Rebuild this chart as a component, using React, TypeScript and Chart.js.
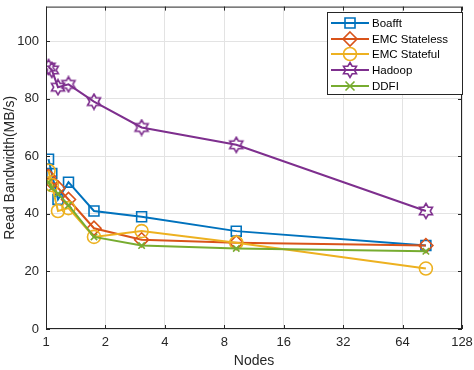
import React, { useEffect, useRef } from "react";
import { Chart, registerables } from "chart.js";

Chart.register(...registerables);

const seriesNames = ["Boafft", "EMC Stateless", "EMC Stateful", "Hadoop", "DDFI"];
const nodes = [1.03, 1.07, 1.15, 1.3, 1.75, 3.05, 9.2, 84];
const boafft = [59, 54, 45, 51, 41, 39, 34, 29];
const emcStateless = [53, 51, 49, 45, 35, 31, 30, 29];
const emcStateful = [55, 50, 41, 42, 32, 34, 30, 21];
const hadoop = [91, 90, 84, 85, 79, 70, 64, 41];
const ddfi = [51, 49, 47, 43, 32, 29, 28, 27];
const xTicks = [1, 2, 4, 8, 16, 32, 64, 128];
const yTicks = [0, 20, 40, 60, 80, 100];
const colors = ["#0072BD", "#D95319", "#EDB120", "#7E2F8E", "#77AC30"];

const FONT = "'Liberation Sans', Arial, sans-serif";
const AXIS = "#262626";
const SHIFT = 3;

function hexagramPath(ctx: CanvasRenderingContext2D, cx: number, cy: number, R: number) {
  const r = R / Math.sqrt(3);
  ctx.beginPath();
  for (let i = 0; i < 12; i++) {
    const ang = -Math.PI / 2 + (i * Math.PI) / 6;
    const rad = i % 2 === 0 ? R : r;
    const x = cx + rad * Math.cos(ang);
    const y = cy + rad * Math.sin(ang);
    if (i === 0) ctx.moveTo(x, y);
    else ctx.lineTo(x, y);
  }
  ctx.closePath();
}

function makeHexagram(color: string): HTMLCanvasElement {
  const c = document.createElement("canvas");
  c.width = 18;
  c.height = 18;
  const ctx = c.getContext("2d")!;
  ctx.strokeStyle = color;
  ctx.lineWidth = 1.6;
  hexagramPath(ctx, 9, 9, 7.5);
  ctx.stroke();
  return c;
}

function drawMarker(ctx: CanvasRenderingContext2D, style: string, x: number, y: number, color: string) {
  ctx.save();
  ctx.strokeStyle = color;
  ctx.lineWidth = 1.6;
  ctx.beginPath();
  if (style === "rect") {
    ctx.rect(x - 5, y - 5, 10, 10);
  } else if (style === "rectRot") {
    ctx.moveTo(x, y - 7);
    ctx.lineTo(x + 7, y);
    ctx.lineTo(x, y + 7);
    ctx.lineTo(x - 7, y);
    ctx.closePath();
  } else if (style === "circle") {
    ctx.arc(x, y, 6.5, 0, Math.PI * 2);
  } else if (style === "hex") {
    hexagramPath(ctx, x, y, 7.5);
  } else if (style === "crossRot") {
    ctx.moveTo(x - 4.5, y - 4.5);
    ctx.lineTo(x + 4.5, y + 4.5);
    ctx.moveTo(x + 4.5, y - 4.5);
    ctx.lineTo(x - 4.5, y + 4.5);
  }
  ctx.stroke();
  ctx.restore();
}

const markerKinds = ["rect", "rectRot", "circle", "hex", "crossRot"];

export default function App() {
  const ref = useRef<HTMLCanvasElement>(null);
  useEffect(() => {
    document.body.style.margin = "0";
    const allValues = [boafft, emcStateless, emcStateful, hadoop, ddfi];
    const radii = [7, 7, 6.5, 8, 4.5];
    const datasets = allValues.map((vals, i) => ({
      label: seriesNames[i],
      data: nodes.map((n, j) => ({ x: n, y: vals[j] })),
      borderColor: colors[i],
      backgroundColor: colors[i],
      borderWidth: 2,
      pointStyle: i === 3 ? makeHexagram(colors[i]) : (markerKinds[i] as any),
      pointRadius: radii[i],
      pointBorderWidth: 1.6,
      pointBorderColor: colors[i],
      pointBackgroundColor: "rgba(0,0,0,0)",
      tension: 0,
      order: 5 - i,
    }));

    const framePlugin = {
      id: "frame",
      afterDatasetsDraw(chart: any) {
        const { ctx, chartArea: a, scales } = chart;
        ctx.save();
        ctx.strokeStyle = AXIS;
        ctx.lineWidth = 1;
        ctx.strokeRect(a.left + 0.5, a.top + 0.5, a.right - a.left - 1, a.bottom - a.top - 1);
        ctx.beginPath();
        xTicks.forEach((t) => {
          const x = Math.round(scales.x.getPixelForValue(t)) + 0.5;
          ctx.moveTo(x, a.bottom);
          ctx.lineTo(x, a.bottom - 4);
          ctx.moveTo(x, a.top);
          ctx.lineTo(x, a.top + 4);
        });
        yTicks.forEach((t) => {
          const y = Math.round(scales.y.getPixelForValue(t)) + 0.5;
          ctx.moveTo(a.left, y);
          ctx.lineTo(a.left + 4, y);
          ctx.moveTo(a.right, y);
          ctx.lineTo(a.right - 4, y);
        });
        ctx.stroke();

        // legend (page coordinates + canvas shift)
        const lx = 327, ly = 12 + SHIFT, lw = 135, lh = 82;
        ctx.fillStyle = "#ffffff";
        ctx.fillRect(lx, ly, lw, lh);
        ctx.strokeStyle = AXIS;
        ctx.lineWidth = 1;
        ctx.strokeRect(lx + 0.5, ly + 0.5, lw, lh);
        const rows = [23, 39, 54, 70, 86];
        ctx.font = `11.5px ${FONT}`;
        ctx.textBaseline = "middle";
        ctx.textAlign = "left";
        seriesNames.forEach((name, i) => {
          const y = rows[i] + SHIFT;
          ctx.strokeStyle = colors[i];
          ctx.lineWidth = 2;
          ctx.beginPath();
          ctx.moveTo(331, y);
          ctx.lineTo(369, y);
          ctx.stroke();
          drawMarker(ctx, markerKinds[i], 350, y, colors[i]);
          ctx.fillStyle = "#000000";
          ctx.fillText(name, 372, y + 1);
        });
        ctx.restore();
      },
    };

    const chart = new Chart(ref.current!, {
      type: "line",
      data: { datasets: datasets as any },
      options: {
        animation: false,
        responsive: false,
        events: [],
        layout: { padding: { top: -2, right: 12, left: 0, bottom: 0 } },
        plugins: { legend: { display: false }, tooltip: { enabled: false } },
        scales: {
          x: {
            type: "logarithmic",
            min: 1,
            max: 128,
            afterBuildTicks: (s: any) => {
              s.ticks = xTicks.map((v) => ({ value: v }));
            },
            afterFit: (s: any) => {
              s.height = 41;
              s.paddingLeft = 0;
              s.paddingRight = 0;
            },
            ticks: {
              autoSkip: false,
              maxRotation: 0,
              padding: 6,
              color: AXIS,
              font: { family: FONT, size: 13 },
              callback: (v: any) => String(v),
            },
            grid: { color: "#e3e3e3", drawTicks: false },
            border: { display: false },
            title: {
              display: true,
              text: "Nodes",
              color: AXIS,
              font: { family: FONT, size: 14 },
              padding: { top: 3, bottom: 0 },
            },
          },
          y: {
            type: "linear",
            min: 0,
            max: 112,
            afterBuildTicks: (s: any) => {
              s.ticks = yTicks.map((v) => ({ value: v }));
            },
            afterFit: (s: any) => {
              s.width = 46;
              s.paddingTop = 0;
              s.paddingBottom = 0;
            },
            ticks: {
              padding: 7,
              color: AXIS,
              font: { family: FONT, size: 13 },
            },
            grid: { color: "#e3e3e3", drawTicks: false },
            border: { display: false },
            title: {
              display: true,
              text: "Read Bandwidth(MB/s)",
              color: AXIS,
              font: { family: FONT, size: 14 },
              padding: { top: 2, bottom: 0 },
            },
          },
        },
      },
      plugins: [framePlugin],
    });
    return () => chart.destroy();
  }, []);

  return (
    <div style={{ position: "fixed", left: 0, top: 0, width: 474, height: 370, overflow: "hidden", background: "#fff" }}>
      <canvas ref={ref} width={474} height={370 + SHIFT} style={{ position: "absolute", left: 0, top: -SHIFT }} />
    </div>
  );
}
